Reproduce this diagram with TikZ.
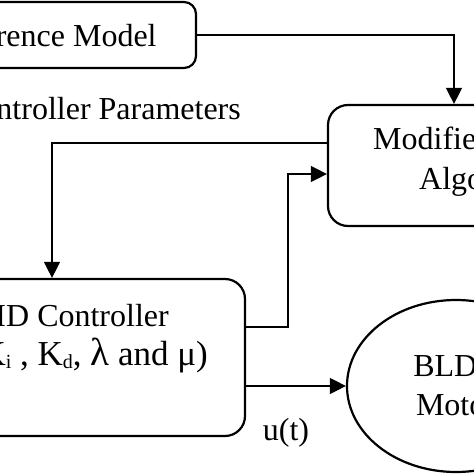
\documentclass[tikz,border=0pt]{standalone}
\usepackage{fontspec}
\setmainfont{Liberation Serif}
\usetikzlibrary{arrows.meta,positioning,shapes.geometric,calc}
\newcommand{\sbs}[1]{\raisebox{-3pt}{\fontsize{20}{20}\selectfont #1}}
\newcommand{\bigsym}[1]{{\fontsize{39}{40}\selectfont #1}}
\tikzset{
  every node/.style={font=\fontsize{32}{39}\selectfont, inner sep=0pt},
  box/.style={draw, line width=2.2pt, rounded corners=#1},
  box/.default=20pt,
  plain/.style={anchor=base #1},
  arrow/.style={-{Triangle[length=16pt,width=16pt]}, line width=1.3pt},
}
\begin{document}
\begin{tikzpicture}[x=1pt,y=-1pt]
\useasboundingbox (0,0) rectangle (474,474);
\clip (0,0) rectangle (474,474);
\node[box=12pt, minimum width=300pt, minimum height=66pt] (ref) at (46,35) {Reference Model};
\node[plain=east] (params) at (241,119) {Controller Parameters};
\node[box, minimum width=312pt, minimum height=121pt] (alg) at (484,165.5) {};
\node[plain=west] (mod1) at (373,149) {Modified};
\node[plain=west] (mod2) at (419,189) {Algorithm};
\node[box, minimum width=400pt, minimum height=157pt] (pid) at (45,357.5) {};
\node[plain=east] (pid1) at (169,326) {PID Controller};
\node[plain=east, font=\fontsize{35}{40}\selectfont] (pid2) at (208,365)
  {(K\sbs{p}, K\sbs{i}\ , K\sbs{d}, \bigsym{λ} and μ)};
\node[draw, ellipse, line width=2.2pt, minimum width=218pt, minimum height=172pt, align=center] (motor) at (456,386) {BLDC\\Motor};
% connectors
\draw[arrow] (ref.east) -| ([xshift=-30pt]alg.north);
\draw[arrow] ([yshift=22.5pt]alg.west) -| ([xshift=7pt]pid.north);
\draw[arrow] ([yshift=30.5pt]pid.east) -- ++(42,0) |- ([yshift=-8.5pt]alg.west);
\draw[arrow] (motor.west -| pid.east) -- node[below=32pt, pos=.4] (ut) {u(t)} (motor.west);
\end{tikzpicture}
\end{document}
